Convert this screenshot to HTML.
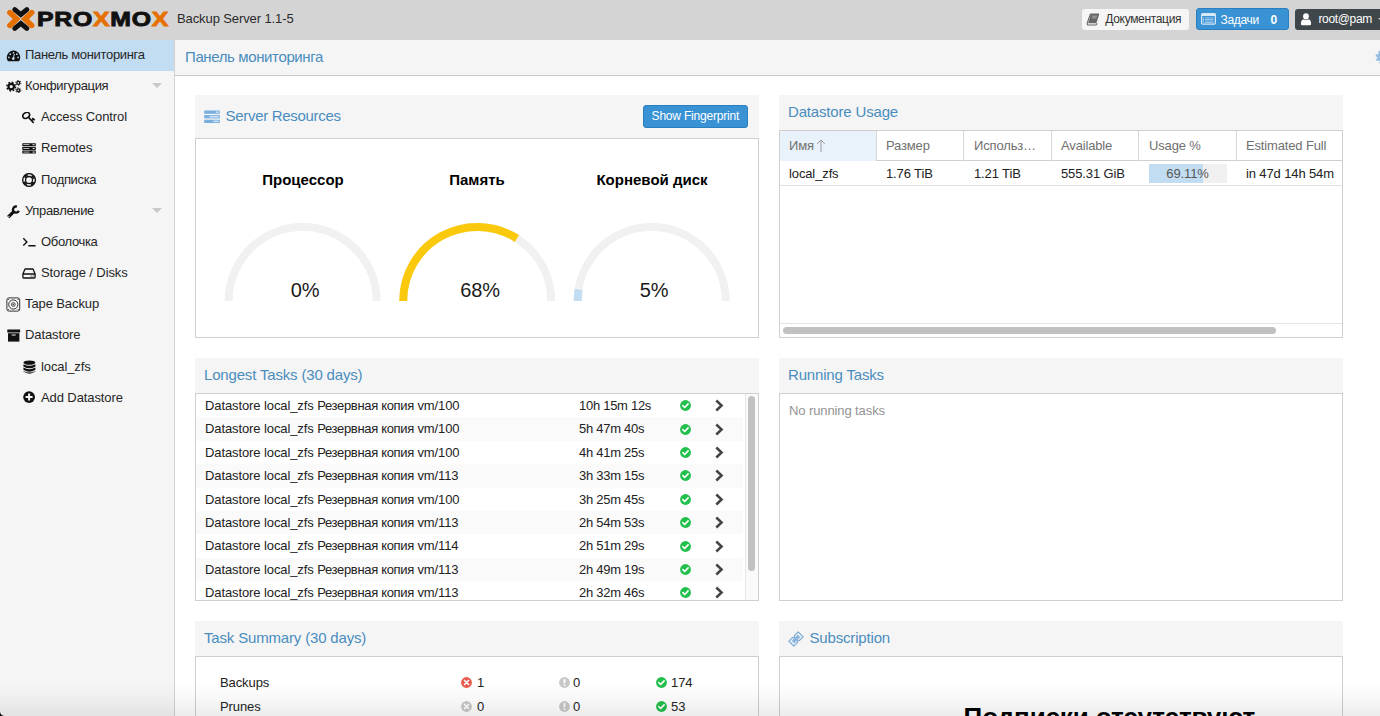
<!DOCTYPE html>
<html lang="ru">
<head>
<meta charset="utf-8">
<title>Proxmox Backup Server</title>
<style>
*{box-sizing:border-box;margin:0;padding:0}
html,body{width:1380px;height:716px;overflow:hidden;background:#fff}
body{font-family:"Liberation Sans",sans-serif;font-size:13px;color:#000;position:relative}
.abs{position:absolute}
#hdr{left:0;top:0;width:1380px;height:40px;background:#d4d4d4}
#side{left:0;top:40px;width:174px;height:676px;background:#f5f5f5}
#split{left:174px;top:40px;width:1px;height:676px;background:#d2d2d2}
#tbar{left:175px;top:40px;width:1205px;height:36px;background:#f5f5f5;border-bottom:1px solid #c9c9c9;overflow:hidden}
#tbar span{position:absolute;left:10px;top:8px;font-size:15px;color:#4a8dbe;white-space:nowrap;letter-spacing:-0.38px}
.nav{position:absolute;left:0;width:174px;height:31px;font-size:13px;color:#262626;white-space:nowrap}
.nav.sel{background:#c2ddf2}
.nav .t{position:absolute;top:7px;left:25px;letter-spacing:-0.1px}
.cy{letter-spacing:-0.33px !important}
.nav.sub .t{left:41px}
.nav svg{position:absolute}
.nav .arr{position:absolute;left:151.5px;top:12.3px;width:0;height:0;border-left:5px solid transparent;border-right:5px solid transparent;border-top:5px solid #c8c8c8}
.ph{position:absolute;background:#f5f5f5;height:42px}
.ph .tt{position:absolute;left:9px;top:12px;font-size:15px;color:#4a8dbe;white-space:nowrap;letter-spacing:-0.17px}
.pb{position:absolute;background:#fff;border:1px solid #cfcfcf}
.btn{position:absolute;font-size:12px;white-space:nowrap;border-radius:3px}
.gt{position:absolute;font-weight:bold;font-size:15px;text-align:center;width:180px;white-space:nowrap}
.gv{position:absolute;font-size:20px;line-height:24px;text-align:center;width:100px;white-space:nowrap;color:#1a1a1a;letter-spacing:-0.2px}
.row{position:absolute;left:0;width:547px;color:#222;height:23.4px;font-size:13px;white-space:nowrap}
.row.alt{background:#fafafa}
.row span{position:absolute;top:4px;letter-spacing:-0.1px}
em{font-style:normal}
.c{position:absolute;white-space:nowrap}
#logo{left:36.8px;top:7px;font-weight:bold;font-size:20px;line-height:24px;color:#111;white-space:nowrap;transform-origin:0 0;transform:scaleX(1.24);letter-spacing:0.6px;-webkit-text-stroke:0.9px currentColor}
#logo .o{color:#e57000}
#ver{left:177px;top:11px;font-size:13px;color:#2a2a2a;white-space:nowrap;letter-spacing:-0.1px}
#bdoc{left:1082px;top:9px;width:107px;height:21px;background:#f6f6f6;color:#333}
#bdoc .c{top:3px !important}
#btask{left:1196px;top:8px;width:93px;height:22px;background:#3892d4;color:#fff;border:1px solid #2a7fc0}
#buser{left:1295px;top:9px;width:100px;height:21px;background:#3f474a;color:#fff}
#bfp{left:448px;top:10px;width:105px;height:23px;background:#3892d4;color:#fff;border:1px solid #2a7fc0}
.vd{position:absolute;top:0;width:1px;height:30px;background:#d8d8d8}
.hd{top:7px;color:#707070;letter-spacing:-0.15px;font-size:13px}
.rw{top:35px;font-size:13px;color:#222;letter-spacing:-0.12px}
.ok{position:absolute;width:11px;height:11px;border-radius:50%;background:#21bf4b}
.ok:after{content:"";position:absolute;left:3.8px;top:2px;width:2.6px;height:5px;border:solid #fff;border-width:0 1.6px 1.6px 0;transform:rotate(42deg)}
.chev{position:absolute;left:515.2px;top:7.6px;width:8.4px;height:8.4px;border:solid #444;border-width:2.7px 2.7px 0 0;transform:rotate(45deg)}
#ts{font-size:13px;color:#222;letter-spacing:-0.1px}
#nosub{left:183.6px;top:45.3px;font-size:26px;font-weight:bold;line-height:30px;letter-spacing:-0.1px}
#fade{left:0;top:680px;width:1380px;height:36px;background:linear-gradient(to bottom,rgba(0,0,0,0),rgba(0,0,0,0.02) 40%,rgba(0,0,0,0.075))}
#corner{left:0;top:712px;width:4px;height:4px;background:radial-gradient(circle at 100% 0,rgba(0,0,0,0) 3.4px,#000 4.2px)}
</style>
</head>
<body>
<!-- header -->
<div id="hdr" class="abs">
  <svg class="abs" style="left:0;top:0" width="42" height="40" viewBox="0 0 42 40">
    <g fill="none" stroke-linejoin="miter" stroke-linecap="round">
      <path d="M14.8 9.6 L20.8 14.6 L26.8 9.6 M14.8 28.4 L20.8 23.4 L26.8 28.4" stroke="#111" stroke-width="5"/>
      <path d="M9.9 12.6 L16.6 19 L9.9 25.4 M31.7 12.6 L25 19 L31.7 25.4" stroke="#e57000" stroke-width="5.6"/>
    </g>
  </svg>
  <div id="logo" class="abs"><span>PRO</span><span class="o">X</span><span>MO</span><span class="o">X</span></div>
  <div class="abs" id="ver">Backup Server 1.1-5</div>
  <div class="btn" id="bdoc"><svg class="abs" style="left:4px;top:4px" width="14" height="13" viewBox="0 0 14 13"><path d="M4.2 0.6 H12.6 Q13.4 0.6 13.1 1.5 L10.6 9.6 Q10.4 10.3 9.6 10.3 H2.2 L4.6 1.9 Z" fill="#666"/><path d="M4.4 0.9 L1.2 10.2 Q0.8 12 2.6 12 H9.6 Q10.4 12 10.7 11.2 L11 10.2" fill="none" stroke="#666" stroke-width="1.1"/><path d="M6.3 3.2 H11 M5.8 4.9 H10.5" stroke="#bbb" stroke-width="0.8"/></svg><span class="c cy" style="left:23.3px;top:4px">Документация</span></div>
  <div class="btn" id="btask"><svg class="abs" style="left:3.5px;top:4px" width="15" height="12" viewBox="0 0 15 12"><rect x="0.6" y="0.6" width="13.8" height="10.6" rx="1.2" fill="none" stroke="#d6e9f8" stroke-width="1.2"/><rect x="0.6" y="0.6" width="13.8" height="2.4" fill="#d6e9f8"/><path d="M2.4 4.6 V9.6 M3.8 4.9 H12.6 M3.8 6.5 H12.6 M3.8 8.1 H12.6 M3.8 9.6 H12.6" stroke="#d6e9f8" stroke-width="0.8" opacity="0.8"/></svg><span class="c cy" style="left:23.5px;top:4px">Задачи</span><b class="c" style="left:73.6px;top:4px">0</b></div>
  <div class="btn" id="buser"><svg class="abs" style="left:5px;top:4px" width="12" height="13" viewBox="0 0 12 13"><ellipse cx="6" cy="3.4" rx="2.9" ry="3.1" fill="#fff"/><path d="M0.9 11 Q0.9 6.6 3.4 6.4 Q6 8 8.6 6.4 Q11.1 6.6 11.1 11 Q11.1 12.2 9.8 12.2 H2.2 Q0.9 12.2 0.9 11Z" fill="#fff"/></svg><span class="c" style="left:23.4px;top:3px;letter-spacing:-0.33px">root@pam</span><i class="abs" style="left:83px;top:9px;border-left:4px solid transparent;border-right:4px solid transparent;border-top:4px solid #ccc"></i></div>
</div>
<div id="side" class="abs"></div>
<div id="split" class="abs"></div>
<div id="tbar" class="abs"><svg class="abs" style="left:1199px;top:9px;overflow:visible" width="16" height="16" viewBox="-8 -8 16 16"><g fill="none" stroke="#8fbbe2"><circle r="3.6" stroke-width="2.6"/><circle r="5.6" stroke-width="1.8" stroke-dasharray="2.2 2.2"/></g></svg><span>Панель мониторинга</span></div>
<div id="nav" class="abs" style="left:0;top:40px;width:174px;height:676px">
  <div class="nav sel" style="top:0"><svg style="left:5.8px;top:10px" width="15" height="12" viewBox="0 0 15 12"><path d="M7.5 0.6 A6.9 6.9 0 0 0 1.5 10.6 Q1.8 11.2 2.4 11.2 H12.6 Q13.2 11.2 13.5 10.6 A6.9 6.9 0 0 0 7.5 0.6Z" fill="#111"/><g fill="#c2ddf2"><circle cx="2.9" cy="7.4" r="0.85"/><circle cx="4.2" cy="4.2" r="0.85"/><circle cx="7.5" cy="2.8" r="0.85"/><circle cx="10.8" cy="4.2" r="0.85"/><circle cx="12.1" cy="7.4" r="0.85"/><circle cx="7.3" cy="8.6" r="1.4"/></g><path d="M7.3 8.6 L8.3 4.4" stroke="#c2ddf2" stroke-width="1" stroke-linecap="round"/></svg><span class="t cy">Панель мониторинга</span></div>
  <div class="nav" style="top:31.1px"><svg style="left:6px;top:9px" width="16" height="13" viewBox="0 0 16 13"><g fill="none" stroke="#111"><circle cx="5.2" cy="6.6" r="2.7" stroke-width="2.2"/><circle cx="5.2" cy="6.6" r="4.3" stroke-width="1.5" stroke-dasharray="1.69 1.69"/><circle cx="12.3" cy="2.9" r="1.45" stroke-width="1.3"/><circle cx="12.3" cy="2.9" r="2.5" stroke-width="1" stroke-dasharray="1.31 1.31"/><circle cx="12.3" cy="10.3" r="1.45" stroke-width="1.3"/><circle cx="12.3" cy="10.3" r="2.5" stroke-width="1" stroke-dasharray="1.31 1.31"/></g></svg><span class="t cy">Конфигурация</span><i class="arr"></i></div>
  <div class="nav sub" style="top:62.3px"><svg style="left:22px;top:10px" width="14" height="12" viewBox="0 0 14 12"><g fill="none" stroke="#111" stroke-width="1.6"><ellipse cx="4.2" cy="3.4" rx="3.6" ry="2.7" transform="rotate(-35 4.2 3.4)"/><path d="M6.6 5.4 L11.7 11 M9.5 8.9 L11.1 7.4 M10.2 6 L12.8 8.2" stroke-linecap="butt"/></g><circle cx="3.4" cy="4" r="0.1" fill="#111"/></svg><span class="t">Access Control</span></div>
  <div class="nav sub" style="top:93.4px"><svg style="left:22px;top:10px" width="14" height="11" viewBox="0 0 14 11"><g fill="#111"><rect x="0.3" y="0.2" width="13.5" height="3" rx="0.5"/><rect x="0.3" y="3.9" width="13.5" height="3" rx="0.5"/><rect x="0.3" y="7.6" width="13.5" height="3" rx="0.5"/></g><g fill="#f5f5f5"><rect x="10.6" y="1.2" width="2" height="1"/><rect x="10.6" y="4.9" width="2" height="1"/><rect x="10.6" y="8.6" width="2" height="1"/><rect x="1.4" y="1.3" width="6" height="0.7"/><rect x="1.4" y="5" width="6" height="0.7"/><rect x="1.4" y="8.7" width="6" height="0.7"/></g></svg><span class="t">Remotes</span></div>
  <div class="nav sub" style="top:124.6px"><svg style="left:22px;top:8.3px" width="14" height="14" viewBox="0 0 14 14"><g fill="none" stroke="#111"><circle cx="7.05" cy="7" r="6.35" stroke-width="1.35"/><circle cx="7.05" cy="7" r="3.5" stroke-width="1.3"/><circle cx="7.05" cy="7" r="5" stroke-width="1.9" stroke-dasharray="3.7 4.154" stroke-dashoffset="-2.08"/></g></svg><span class="t cy">Подписка</span></div>
  <div class="nav" style="top:155.8px"><svg style="left:6.3px;top:7.8px" width="14" height="16" viewBox="0 0 14 16"><path d="M2.2 13.1 L8 7.3" stroke="#111" stroke-width="3.3" fill="none"/><path d="M10.9 2.7 A3 3 0 1 0 12.8 6.7" stroke="#111" stroke-width="2.3" fill="none"/><circle cx="2.9" cy="12.4" r="0.55" fill="#f5f5f5"/></svg><span class="t cy">Управление</span><i class="arr"></i></div>
  <div class="nav sub" style="top:186.9px"><svg style="left:21.8px;top:10.6px" width="14" height="10" viewBox="0 0 14 10"><path d="M1.3 1.3 L4.9 4.9 L1.3 8.5 M6.3 8.7 H13.6" stroke="#111" stroke-width="1.4" fill="none"/></svg><span class="t cy">Оболочка</span></div>
  <div class="nav sub" style="top:218.0px"><svg style="left:22.2px;top:9.9px" width="14" height="11" viewBox="0 0 14 11"><path d="M0.9 6 L3 1 H11 L13.1 6 V9.2 Q13.1 10 12.3 10 H1.7 Q0.9 10 0.9 9.2 Z M0.9 6 H13.1" stroke="#111" stroke-width="1.3" fill="none" stroke-linejoin="round"/><circle cx="9.2" cy="8" r="0.6" fill="#111"/><circle cx="11.2" cy="8" r="0.6" fill="#111"/></svg><span class="t">Storage / Disks</span></div>
  <div class="nav" style="top:249.2px"><svg style="left:5.8px;top:7.9px" width="15" height="15" viewBox="0 0 15 15"><g fill="none" stroke="#333"><rect x="0.9" y="0.9" width="12.8" height="13.2" rx="2" stroke-width="1"/><circle cx="7.3" cy="7.5" r="4.6" stroke-width="1"/><circle cx="7.3" cy="7.5" r="1.9" stroke-width="0.9"/></g><circle cx="7.3" cy="7.5" r="0.8" fill="#333"/><g fill="#333"><circle cx="2.5" cy="2.5" r="0.6"/><circle cx="12.1" cy="2.5" r="0.6"/><circle cx="2.5" cy="12.5" r="0.6"/><circle cx="12.1" cy="12.5" r="0.6"/></g></svg><span class="t">Tape Backup</span></div>
  <div class="nav" style="top:280.3px"><svg style="left:7.2px;top:9.1px" width="14" height="13" viewBox="0 0 14 13"><rect x="0.3" y="0.5" width="12.8" height="3" fill="#111"/><rect x="1" y="4.2" width="11.4" height="8.4" fill="#111"/><rect x="4.6" y="5.4" width="4.2" height="1.2" rx="0.6" fill="#f5f5f5"/></svg><span class="t">Datastore</span></div>
  <div class="nav sub" style="top:311.5px"><svg style="left:22.6px;top:8.0px" width="13" height="14" viewBox="0 0 13 14"><g fill="#111"><ellipse cx="6.4" cy="2.6" rx="6" ry="2.2"/><path d="M0.4 4.2 Q6.4 7.4 12.4 4.2 V6.4 Q6.4 10.2 0.4 6.4Z"/><path d="M0.4 7.6 Q6.4 10.8 12.4 7.6 V9.8 Q6.4 13.6 0.4 9.8Z"/><path d="M0.4 11 Q6.4 14.2 12.4 11 V11.6 Q6.4 15.8 0.4 11.6Z"/></g></svg><span class="t">local_zfs</span></div>
  <div class="nav sub" style="top:342.6px"><svg style="left:21.7px;top:7.7px" width="14" height="14" viewBox="0 0 14 14"><circle cx="7.1" cy="7.1" r="5.9" fill="#111"/><path d="M7.1 3.6 V10.6 M3.6 7.1 H10.6" stroke="#f5f5f5" stroke-width="2"/></svg><span class="t">Add Datastore</span></div>
</div>

<!-- Panel A: Server Resources -->
<div class="ph" style="left:195px;top:95px;width:564px;height:43px"><svg class="abs" style="left:9px;top:14.5px" width="16" height="14" viewBox="0 0 16 14"><g fill="#78afdf"><rect x="0.2" y="0.5" width="15.6" height="3.3"/><rect x="0.2" y="5.1" width="15.6" height="3.3"/><rect x="0.2" y="9.7" width="15.6" height="3.3"/></g><g fill="#cfe3f5"><rect x="12" y="1.4" width="2.6" height="1.5"/><rect x="5.6" y="6" width="9" height="1.5"/><rect x="9.4" y="10.6" width="5.2" height="1.5"/></g></svg><span class="tt" style="left:30.5px;top:12px;letter-spacing:-0.3px">Server Resources</span>
  <div class="btn" id="bfp"><span class="c" style="left:7.6px;top:3px;letter-spacing:-0.2px">Show Fingerprint</span></div>
</div>
<div class="pb" style="left:195px;top:138px;width:564px;height:200px;overflow:hidden">
  <div class="gt" style="left:17px;top:31.5px">Процессор</div>
  <div class="gt" style="left:191px;top:31.5px">Память</div>
  <div class="gt" style="left:366px;top:31.5px">Корневой диск</div>
  <svg class="abs" style="left:0;top:0" width="562" height="198" viewBox="196 139 562 198">
    <g fill="none" stroke-width="8">
      <path d="M228.7 301 A74 74 0 0 1 376.7 301" stroke="#f1f1f1"/>
      <path d="M403.2 301 A74 74 0 0 1 551.2 301" stroke="#f1f1f1"/>
      <path d="M403.2 301 A74 74 0 0 1 516.9 238.5" stroke="#fbc90c"/>
      <path d="M577.7 301 A74 74 0 0 1 725.7 301" stroke="#f1f1f1"/>
      <path d="M577.7 301 A74 74 0 0 1 578.6 289.4" stroke="#c2ddf2"/>
    </g>
  </svg>
  <div class="gv" style="left:59px;top:139.4px">0%</div>
  <div class="gv" style="left:234px;top:139.4px">68%</div>
  <div class="gv" style="left:408px;top:139.4px">5%</div>
</div>

<!-- Panel B: Datastore Usage -->
<div class="ph" style="left:779px;top:95px;width:564px;height:35px"><span class="tt" style="top:8px">Datastore Usage</span></div>
<div class="pb" style="left:779px;top:130px;width:564px;height:208px" id="dsu">
  <div class="abs" style="left:0;top:0;width:562px;height:30px;border-bottom:1px solid #cfcfcf;background:#fff"></div>
  <div class="abs" style="left:0;top:0;width:96px;height:30px;background:#e9f2fa"></div>
  <i class="vd" style="left:96px"></i><i class="vd" style="left:183px"></i><i class="vd" style="left:271px"></i><i class="vd" style="left:358px"></i><i class="vd" style="left:456px"></i>
  <span class="c hd" style="left:9px">Имя</span>
  <svg class="abs" style="left:35.5px;top:8px" width="10" height="14" viewBox="0 0 10 14"><path d="M5 1 V13 M1.2 4.8 L5 1 L8.8 4.8" fill="none" stroke="#999" stroke-width="1"/></svg>
  <span class="c hd" style="left:106px">Размер</span>
  <span class="c hd" style="left:194px">Использ…</span>
  <span class="c hd" style="left:281px">Available</span>
  <span class="c hd" style="left:369px">Usage %</span>
  <span class="c hd" style="left:466px">Estimated Full</span>
  <div class="abs" style="left:0;top:30px;width:562px;height:25px;border-bottom:1px solid #e0e0e0"></div>
  <span class="c rw" style="left:9px">local_zfs</span>
  <span class="c rw" style="left:106px">1.76 TiB</span>
  <span class="c rw" style="left:194px">1.21 TiB</span>
  <span class="c rw" style="left:281px">555.31 GiB</span>
  <div class="abs" style="left:369.2px;top:33px;width:78px;height:19px;background:#f0f0f0"><div style="width:54px;height:19px;background:#c2ddf2"></div></div>
  <span class="c rw" style="left:369px;width:77px;text-align:center;color:#555">69.11%</span>
  <span class="c rw" style="left:466px">in 47d 14h 54m</span>
  <div class="abs" style="left:0;top:192px;width:562px;height:1px;background:#e4e4e4"></div>
  <div class="abs" style="left:2.5px;top:196px;width:493px;height:7px;border-radius:4px;background:#c1c1c1"></div>
</div>

<!-- Panel C: Longest Tasks -->
<div class="ph" style="left:195px;top:358px;width:564px;height:35px"><span class="tt" style="top:8px">Longest Tasks (30 days)</span></div>
<div class="pb" style="left:195px;top:393px;width:564px;height:208px;overflow:hidden" id="lt">
  <div class="row" style="top:0.0px"><span style="left:9px">Datastore local_zfs <em class="cy">Резервная копия</em> vm/100</span><span style="left:383px;letter-spacing:-0.28px">10h 15m 12s</span><svg class="abs" style="left:483.7px;top:6.2px" width="11" height="11" viewBox="0 0 11 11"><circle cx="5.5" cy="5.5" r="5.4" fill="#21bf4b"/><path d="M2.9 5.7 L4.7 7.5 L8.1 3.9" fill="none" stroke="#fff" stroke-width="1.7" stroke-linecap="round" stroke-linejoin="round"/></svg><svg class="abs" style="left:518.4px;top:5.2px" width="11" height="13" viewBox="0 0 11 13"><path d="M2.3 1.5 L7.6 6.5 L2.3 11.5" fill="none" stroke="#444" stroke-width="2.5"/></svg></div>
  <div class="row alt" style="top:23.4px"><span style="left:9px">Datastore local_zfs <em class="cy">Резервная копия</em> vm/100</span><span style="left:383px;letter-spacing:-0.28px">5h 47m 40s</span><svg class="abs" style="left:483.7px;top:6.2px" width="11" height="11" viewBox="0 0 11 11"><circle cx="5.5" cy="5.5" r="5.4" fill="#21bf4b"/><path d="M2.9 5.7 L4.7 7.5 L8.1 3.9" fill="none" stroke="#fff" stroke-width="1.7" stroke-linecap="round" stroke-linejoin="round"/></svg><svg class="abs" style="left:518.4px;top:5.2px" width="11" height="13" viewBox="0 0 11 13"><path d="M2.3 1.5 L7.6 6.5 L2.3 11.5" fill="none" stroke="#444" stroke-width="2.5"/></svg></div>
  <div class="row" style="top:46.8px"><span style="left:9px">Datastore local_zfs <em class="cy">Резервная копия</em> vm/100</span><span style="left:383px;letter-spacing:-0.28px">4h 41m 25s</span><svg class="abs" style="left:483.7px;top:6.2px" width="11" height="11" viewBox="0 0 11 11"><circle cx="5.5" cy="5.5" r="5.4" fill="#21bf4b"/><path d="M2.9 5.7 L4.7 7.5 L8.1 3.9" fill="none" stroke="#fff" stroke-width="1.7" stroke-linecap="round" stroke-linejoin="round"/></svg><svg class="abs" style="left:518.4px;top:5.2px" width="11" height="13" viewBox="0 0 11 13"><path d="M2.3 1.5 L7.6 6.5 L2.3 11.5" fill="none" stroke="#444" stroke-width="2.5"/></svg></div>
  <div class="row alt" style="top:70.2px"><span style="left:9px">Datastore local_zfs <em class="cy">Резервная копия</em> vm/113</span><span style="left:383px;letter-spacing:-0.28px">3h 33m 15s</span><svg class="abs" style="left:483.7px;top:6.2px" width="11" height="11" viewBox="0 0 11 11"><circle cx="5.5" cy="5.5" r="5.4" fill="#21bf4b"/><path d="M2.9 5.7 L4.7 7.5 L8.1 3.9" fill="none" stroke="#fff" stroke-width="1.7" stroke-linecap="round" stroke-linejoin="round"/></svg><svg class="abs" style="left:518.4px;top:5.2px" width="11" height="13" viewBox="0 0 11 13"><path d="M2.3 1.5 L7.6 6.5 L2.3 11.5" fill="none" stroke="#444" stroke-width="2.5"/></svg></div>
  <div class="row" style="top:93.6px"><span style="left:9px">Datastore local_zfs <em class="cy">Резервная копия</em> vm/100</span><span style="left:383px;letter-spacing:-0.28px">3h 25m 45s</span><svg class="abs" style="left:483.7px;top:6.2px" width="11" height="11" viewBox="0 0 11 11"><circle cx="5.5" cy="5.5" r="5.4" fill="#21bf4b"/><path d="M2.9 5.7 L4.7 7.5 L8.1 3.9" fill="none" stroke="#fff" stroke-width="1.7" stroke-linecap="round" stroke-linejoin="round"/></svg><svg class="abs" style="left:518.4px;top:5.2px" width="11" height="13" viewBox="0 0 11 13"><path d="M2.3 1.5 L7.6 6.5 L2.3 11.5" fill="none" stroke="#444" stroke-width="2.5"/></svg></div>
  <div class="row alt" style="top:117.0px"><span style="left:9px">Datastore local_zfs <em class="cy">Резервная копия</em> vm/113</span><span style="left:383px;letter-spacing:-0.28px">2h 54m 53s</span><svg class="abs" style="left:483.7px;top:6.2px" width="11" height="11" viewBox="0 0 11 11"><circle cx="5.5" cy="5.5" r="5.4" fill="#21bf4b"/><path d="M2.9 5.7 L4.7 7.5 L8.1 3.9" fill="none" stroke="#fff" stroke-width="1.7" stroke-linecap="round" stroke-linejoin="round"/></svg><svg class="abs" style="left:518.4px;top:5.2px" width="11" height="13" viewBox="0 0 11 13"><path d="M2.3 1.5 L7.6 6.5 L2.3 11.5" fill="none" stroke="#444" stroke-width="2.5"/></svg></div>
  <div class="row" style="top:140.4px"><span style="left:9px">Datastore local_zfs <em class="cy">Резервная копия</em> vm/114</span><span style="left:383px;letter-spacing:-0.28px">2h 51m 29s</span><svg class="abs" style="left:483.7px;top:6.2px" width="11" height="11" viewBox="0 0 11 11"><circle cx="5.5" cy="5.5" r="5.4" fill="#21bf4b"/><path d="M2.9 5.7 L4.7 7.5 L8.1 3.9" fill="none" stroke="#fff" stroke-width="1.7" stroke-linecap="round" stroke-linejoin="round"/></svg><svg class="abs" style="left:518.4px;top:5.2px" width="11" height="13" viewBox="0 0 11 13"><path d="M2.3 1.5 L7.6 6.5 L2.3 11.5" fill="none" stroke="#444" stroke-width="2.5"/></svg></div>
  <div class="row alt" style="top:163.8px"><span style="left:9px">Datastore local_zfs <em class="cy">Резервная копия</em> vm/113</span><span style="left:383px;letter-spacing:-0.28px">2h 49m 19s</span><svg class="abs" style="left:483.7px;top:6.2px" width="11" height="11" viewBox="0 0 11 11"><circle cx="5.5" cy="5.5" r="5.4" fill="#21bf4b"/><path d="M2.9 5.7 L4.7 7.5 L8.1 3.9" fill="none" stroke="#fff" stroke-width="1.7" stroke-linecap="round" stroke-linejoin="round"/></svg><svg class="abs" style="left:518.4px;top:5.2px" width="11" height="13" viewBox="0 0 11 13"><path d="M2.3 1.5 L7.6 6.5 L2.3 11.5" fill="none" stroke="#444" stroke-width="2.5"/></svg></div>
  <div class="row" style="top:187.2px"><span style="left:9px">Datastore local_zfs <em class="cy">Резервная копия</em> vm/113</span><span style="left:383px;letter-spacing:-0.28px">2h 32m 46s</span><svg class="abs" style="left:483.7px;top:6.2px" width="11" height="11" viewBox="0 0 11 11"><circle cx="5.5" cy="5.5" r="5.4" fill="#21bf4b"/><path d="M2.9 5.7 L4.7 7.5 L8.1 3.9" fill="none" stroke="#fff" stroke-width="1.7" stroke-linecap="round" stroke-linejoin="round"/></svg><svg class="abs" style="left:518.4px;top:5.2px" width="11" height="13" viewBox="0 0 11 13"><path d="M2.3 1.5 L7.6 6.5 L2.3 11.5" fill="none" stroke="#444" stroke-width="2.5"/></svg></div>
  <div class="abs" style="left:549px;top:0;width:1px;height:206px;background:#e8e8e8"></div>
  <div class="abs" style="left:550px;top:0;width:12px;height:206px;background:#fafafa"></div>
  <div class="abs" style="left:552px;top:1.5px;width:7px;height:175px;border-radius:4px;background:#c1c1c1"></div>
</div>

<!-- Panel D: Running Tasks -->
<div class="ph" style="left:779px;top:358px;width:564px;height:35px"><span class="tt" style="top:8px">Running Tasks</span></div>
<div class="pb" style="left:779px;top:393px;width:564px;height:208px"><span class="c" style="left:9px;top:9px;color:#939393;font-size:13px;letter-spacing:-0.1px">No running tasks</span></div>

<!-- Panel E: Task Summary -->
<div class="ph" style="left:195px;top:621px;width:564px;height:35px"><span class="tt" style="top:8px">Task Summary (30 days)</span></div>
<div class="pb" style="left:195px;top:656px;width:564px;height:80px" id="ts">
  <svg class="abs" style="left:265.2px;top:20.2px" width="11" height="11" viewBox="0 0 11 11"><circle cx="5.5" cy="5.5" r="5.4" fill="#e9594c"/><path d="M3.5 3.5 L7.5 7.5 M7.5 3.5 L3.5 7.5" stroke="#fff" stroke-width="1.7" stroke-linecap="round"/></svg><svg class="abs" style="left:362.5px;top:20.2px" width="11" height="11" viewBox="0 0 11 11"><circle cx="5.5" cy="5.5" r="5.4" fill="#c8c8c8"/><path d="M5.5 2.2 V6.2" stroke="#fff" stroke-width="1.8"/><circle cx="5.5" cy="8.2" r="1" fill="#fff"/></svg><svg class="abs" style="left:459.8px;top:20.2px" width="11" height="11" viewBox="0 0 11 11"><circle cx="5.5" cy="5.5" r="5.4" fill="#21bf4b"/><path d="M2.9 5.7 L4.7 7.5 L8.1 3.9" fill="none" stroke="#fff" stroke-width="1.7" stroke-linecap="round" stroke-linejoin="round"/></svg><svg class="abs" style="left:265.2px;top:43.7px" width="11" height="11" viewBox="0 0 11 11"><circle cx="5.5" cy="5.5" r="5.4" fill="#c8c8c8"/><path d="M3.5 3.5 L7.5 7.5 M7.5 3.5 L3.5 7.5" stroke="#fff" stroke-width="1.7" stroke-linecap="round"/></svg><svg class="abs" style="left:362.5px;top:43.7px" width="11" height="11" viewBox="0 0 11 11"><circle cx="5.5" cy="5.5" r="5.4" fill="#c8c8c8"/><path d="M5.5 2.2 V6.2" stroke="#fff" stroke-width="1.8"/><circle cx="5.5" cy="8.2" r="1" fill="#fff"/></svg><svg class="abs" style="left:459.8px;top:43.7px" width="11" height="11" viewBox="0 0 11 11"><circle cx="5.5" cy="5.5" r="5.4" fill="#21bf4b"/><path d="M2.9 5.7 L4.7 7.5 L8.1 3.9" fill="none" stroke="#fff" stroke-width="1.7" stroke-linecap="round" stroke-linejoin="round"/></svg>
  <span class="c" style="left:24px;top:18px">Backups</span>
  <span class="c" style="left:24px;top:41.5px">Prunes</span>
  <span class="c" style="left:281px;top:18px">1</span>
  <span class="c" style="left:281px;top:41.5px">0</span>
  <span class="c" style="left:377px;top:18px">0</span>
  <span class="c" style="left:377px;top:41.5px">0</span>
  <span class="c" style="left:475px;top:18px">174</span>
  <span class="c" style="left:475px;top:41.5px">53</span>
</div>

<!-- Panel F: Subscription -->
<div class="ph" style="left:779px;top:621px;width:564px;height:35px"><svg class="abs" style="left:8px;top:8.5px" width="18" height="18" viewBox="-9 -9 18 18"><g transform="rotate(-45)"><path d="M-6.6 -3.5 H-1.2 A1.2 1 0 0 0 1.2 -3.5 H6.6 V3.5 H1.2 A1.2 1 0 0 0 -1.2 3.5 H-6.6 Z" fill="#e4eff9" stroke="#7dabd3" stroke-width="1.2" stroke-linejoin="round"/><rect x="-4.2" y="-1.7" width="8.4" height="3.4" fill="#8ab4d9"/></g></svg><span class="tt" style="left:30.5px;top:8px">Subscription</span></div>
<div class="pb" style="left:779px;top:656px;width:564px;height:80px"><span class="c" id="nosub">Подписки отсутствуют</span></div>

<div id="fade" class="abs"></div><div id="corner" class="abs"></div>
</body>
</html>
